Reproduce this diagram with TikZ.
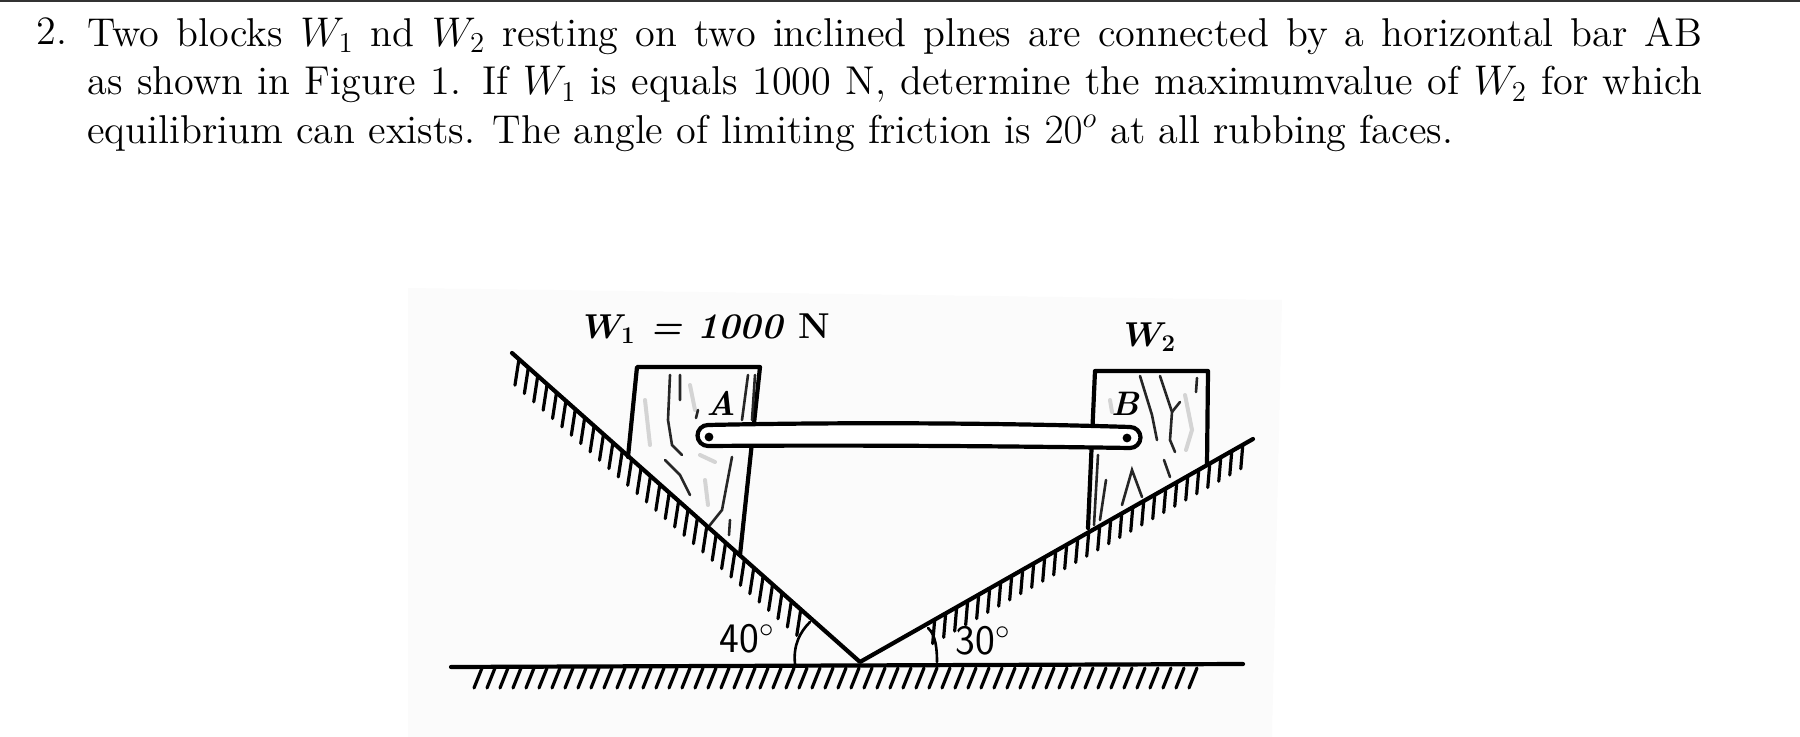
\documentclass[tikz,border=0pt]{standalone}
\usepackage{amsmath}
\usepackage{fontspec}
\newfontfamily\parafont{lmroman12-regular.otf}
\usetikzlibrary{calc,positioning}
\definecolor{scanbg}{HTML}{FBFBFB}
\definecolor{topbar}{HTML}{333333}
\definecolor{speck}{HTML}{D4D4D4}
\tikzset{
para_n/.style = {anchor=north west, inner sep=0pt, align=justify, text width=807.5pt, font=\fontsize{20.12}{24.1}\parafont},
fig_l/.style = {draw=black, line width=2.1pt, line cap=round, line join=round},
hatch_l/.style = {draw=black, line width=1.6pt, line cap=round},
grain_l/.style = {draw=black!85, line width=1.3pt, line cap=round},
speck_l/.style = {draw=speck, line width=2pt, line cap=round},
arc_l/.style = {draw=black, line width=1.3pt, line cap=round},
load_n/.style = {inner sep=0pt, font=\fontsize{18}{22}\selectfont\bfseries\itshape},
mark_n/.style = {inner sep=0pt, font=\fontsize{17}{20}\selectfont\bfseries\itshape},
ang_n/.style = {inner sep=0pt, font=\fontsize{21}{24}\selectfont\sffamily}
}

\begin{document}
\begin{tikzpicture}[x=0.5pt,y=-0.5pt]
	\useasboundingbox (0,0) rectangle (1800,737);
	\fill[scanbg] (408,288) -- (1282,300) -- (1272,737) -- (408,737) -- cycle;
	\fill[topbar] (0,0) rectangle (1800,2);
	% question text
	\node [para_n] (num) at (36,17.5) {2.};
	\node [para_n] (question) at (87,17.5) {Two blocks $W_1$ nd $W_2$ resting on two inclined plnes are connected by a horizontal bar AB\linebreak as shown in Figure 1. If $W_1$ is equals 1000 N, determine the maximumvalue of $W_2$ for which\linebreak equilibrium can exists. The angle of limiting friction is $20^o$ at all rubbing faces.};
	\coordinate (vertex) at (860,662);
	\coordinate (left_top) at (512,353);
	\coordinate (right_top) at (1253,439);
	\coordinate (ground_w) at (451,667);
	\coordinate (ground_e) at (1243,664);
	% blocks
	\draw [speck_l] (645,400) -- (650,445) (690,385) -- (695,410) (700,455) -- (715,462) (705,480) -- (708,505);
	\draw [speck_l] (1185,395) -- (1192,430) -- (1186,450) (1110,400) -- (1112,412);
	\draw [fig_l] (628,457) -- (637,367) -- (760,367) -- (740,555);
	\draw [fig_l] (1088,528) -- (1095,371) -- (1208,371) -- (1207,465);
	% wood grain
	\draw [grain_l] (670,375) -- (668,420) -- (672,445) -- (682,455);
	\draw [grain_l] (680,375) -- (680,400) (696,418) -- (698,410);
	\draw [grain_l] (665,460) -- (680,475) -- (690,495);
	\draw [grain_l] (732,457) -- (722,510) -- (710,525);
	\draw [grain_l] (748,375) -- (742,420) (755,375) -- (752,420);
	\draw [grain_l] (730,520) -- (729,535);
	\draw [grain_l] (1140,376) -- (1152,415) -- (1157,440);
	\draw [grain_l] (1160,376) -- (1172,412) -- (1170,440) -- (1175,452);
	\draw [grain_l] (1172,412) -- (1180,402) (1164,460) -- (1170,477);
	\draw [grain_l] (1098,455) -- (1094,525) (1106,480) -- (1100,520);
	\draw [grain_l] (1122,505) -- (1132,470) -- (1142,497);
	\draw [grain_l] (1197,378) -- (1196,392);
	% planes
	\draw [fig_l] (ground_w) -- (ground_e);
	\draw [fig_l] (left_top) -- (vertex) -- (right_top);
	\foreach \x in {482,495,...,1200}
		\draw [hatch_l] (\x,668) -- ++(-8,20);
	\foreach \t in {0.02,0.047,...,0.85}
		\draw [hatch_l] ($(left_top)!\t!(vertex)$) -- ++(-4,26);
	\foreach \t in {0.19,0.218,...,1.0}
		\draw [hatch_l] ($(vertex)!\t!(right_top)$) -- ++(-2,24);
	% bar
	\draw [fig_l, fill=white] (708,425) .. controls (850,422) and (1000,423) .. (1130,427)
		arc (-90:90:10.5) .. controls (1000,446) and (850,445) .. (708,446) arc (90:270:10.5) -- cycle;
	\fill (709,437) circle (2.2pt);
	\fill (1127,438) circle (2.2pt);
	% angle arcs
	\draw [arc_l] (795,664) .. controls (793,645) and (800,632) .. (810,622);
	\draw [arc_l] (937,662) .. controls (937,650) and (936,635) .. (928,628);
	% labels
	\node [load_n] (load_a) at (707,329) {$\boldsymbol{W_1}$ = 1000 \textup{N}};
	\node [load_n] (load_b) at (1150,337) {$\boldsymbol{W_2}$};
	\node [mark_n] (pin_a) at (721,403) {A};
	\node [mark_n] (pin_b) at (1125,404) {B};
	\node [ang_n] (ang_a) at (747,639) {40$^\circ$};
	\node [ang_n] (ang_b) at (983,641) {30$^\circ$};
\end{tikzpicture}
\end{document}
